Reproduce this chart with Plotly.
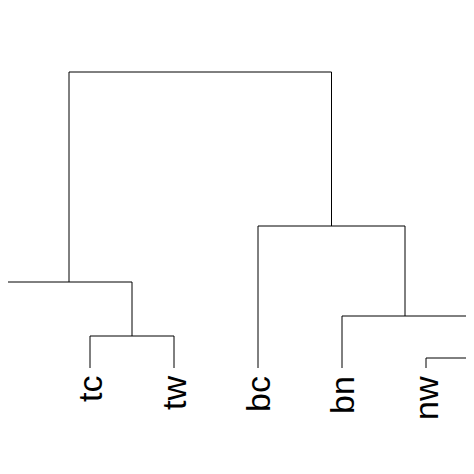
import plotly.graph_objects as go

leaf_labels = ["swbd", "tc", "tw", "bc", "bn", "nw", "wsj"]
merge_left = [1, 0, 5, 4, 3, 8]
merge_right = [2, 7, 6, 9, 10, 11]
merge_height = [32, 86, 10, 52, 142, 296]

pos = {i: float(i) for i in range(len(leaf_labels))}
hgt = {i: 0.0 for i in range(len(leaf_labels))}
xs, ys = [], []
nid = len(leaf_labels)
for a, b, h in zip(merge_left, merge_right, merge_height):
    xs += [pos[a], pos[a], pos[b], pos[b], None]
    ys += [hgt[a], h, h, hgt[b], None]
    pos[nid] = (pos[a] + pos[b]) / 2
    hgt[nid] = h
    nid += 1

fig = go.Figure(go.Scatter(x=xs, y=ys, mode="lines", line=dict(color="black", width=1), hoverinfo="skip"))
for i, lab in enumerate(leaf_labels):
    fig.add_annotation(x=i, y=-6, text=lab, showarrow=False, textangle=-90,
                       xanchor="center", yanchor="top",
                       font=dict(family="Liberation Sans, Arial", size=34, color="black"))
fig.update_layout(width=474, height=474, margin=dict(l=0, r=0, t=0, b=0),
                  plot_bgcolor="white", paper_bgcolor="white", showlegend=False)
fig.update_xaxes(range=[2/84, 476/84], visible=False)
fig.update_yaxes(range=[-114, 360], visible=False)
fig.write_html("out.html")
